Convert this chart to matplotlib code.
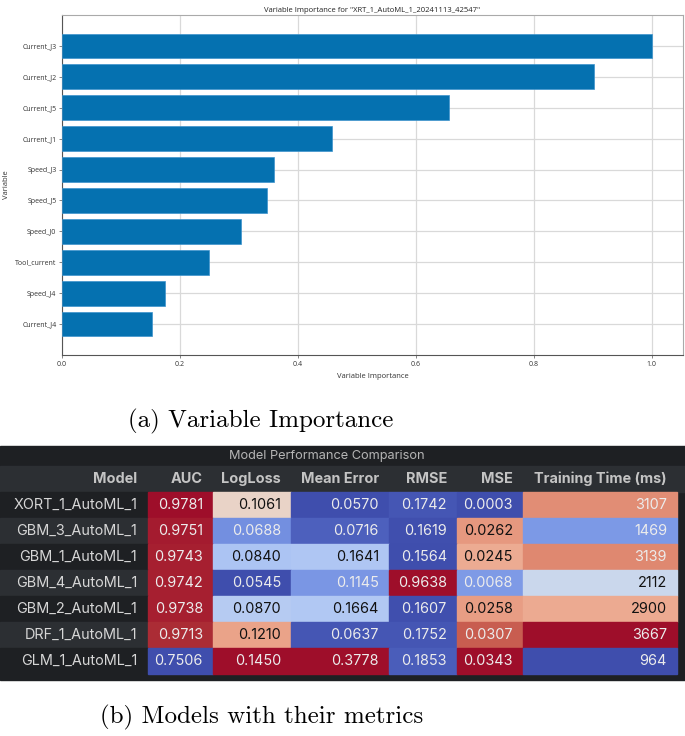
import matplotlib
matplotlib.use("Agg")
import matplotlib.pyplot as plt
from matplotlib.patches import Rectangle
import numpy as np

# === Daten: Variable Importance ===
variables = ["Current_J3", "Current_J2", "Current_J5", "Current_J1", "Speed_J3",
             "Speed_J5", "Speed_J0", "Tool_current", "Speed_J4", "Current_J4"]
importance = [1.0, 0.902, 0.657, 0.457, 0.359, 0.347, 0.303, 0.250, 0.175, 0.153]

# === Daten: Modell-Tabelle ===
models = ["XORT_1_AutoML_1", "GBM_3_AutoML_1", "GBM_1_AutoML_1", "GBM_4_AutoML_1",
          "GBM_2_AutoML_1", "DRF_1_AutoML_1", "GLM_1_AutoML_1"]
metric_names = ["AUC", "LogLoss", "Mean Error", "RMSE", "MSE", "Training Time (ms)"]
auc = [0.9781, 0.9751, 0.9743, 0.9742, 0.9738, 0.9713, 0.7506]
logloss = [0.1061, 0.0688, 0.0840, 0.0545, 0.0870, 0.1210, 0.1450]
mean_error = [0.0570, 0.0716, 0.1641, 0.1145, 0.1664, 0.0637, 0.3778]
rmse = [0.1742, 0.1619, 0.1564, 0.9638, 0.1607, 0.1752, 0.1853]
mse = [0.0003, 0.0262, 0.0245, 0.0068, 0.0258, 0.0307, 0.0343]
train_time = [3107, 1469, 3139, 2112, 2900, 3667, 964]
columns = [auc, logloss, mean_error, rmse, mse, train_time]
formats = ["{:.4f}"] * 5 + ["{:d}"]

W, H = 685, 736
fig = plt.figure(figsize=(W / 100, H / 100), dpi=100)

# === Oberer Plot ===
ax = fig.add_axes([62 / W, 1 - 355 / H, 621 / W, 340 / H])
y = np.arange(len(variables))
ax.barh(y, importance, height=0.8, color="#0571b0", edgecolor="#3d93cc", linewidth=0.5, zorder=3)
ax.set_ylim(len(variables), -1)
ax.set_xlim(0, 1.053)
ax.set_yticks(y)
ax.set_yticklabels(variables)
ax.set_xticks([0.0, 0.2, 0.4, 0.6, 0.8, 1.0])
ax.grid(True, color="#d9d9d9", linewidth=0.9, zorder=0)
ax.tick_params(labelsize=5, length=2, width=0.5, pad=2, colors="#555555", labelcolor="#333333")
for s in ["top", "right"]:
    ax.spines[s].set_color("#aaaaaa")
for s in ["left", "bottom"]:
    ax.spines[s].set_color("#555555")
for s in ax.spines.values():
    s.set_linewidth(0.8)
fname = "Open Sans"
for lab in ax.get_xticklabels() + ax.get_yticklabels():
    lab.set_fontfamily(fname)
ax.set_title('Variable Importance for "XRT_1_AutoML_1_20241113_42547"', fontsize=5.5,
             family=fname, color="#222222", pad=2)
ax.set_xlabel("Variable Importance", fontsize=5.5, family=fname, color="#333333", labelpad=4)
ax.set_ylabel("Variable", fontsize=5.5, family=fname, color="#333333", labelpad=4)

# === Tabelle ===
tx = fig.add_axes([0, 0, 1, 1])
tx.set_xlim(0, W)
tx.set_ylim(H, 0)
tx.axis("off")

dark = "#1e2023"
light = "#2c2f33"
col_edges = [0, 148, 213, 291, 389, 457, 523, 677]
top, title_h, head_h, row_h = 446, 20, 25.5, 26
tx.add_patch(Rectangle((0, top), W, 234, color=dark))
tx.add_patch(Rectangle((0, top + title_h), W, head_h, color=light))
tfont = "Inter"
fs = 10.4
tx.text(327, top + title_h / 2 + 0.5, "Model Performance Comparison", ha="center", va="center",
        fontsize=9.2, family=tfont, color="#b5b5b5")
hy = top + title_h + head_h / 2 + 0.5
tx.text(col_edges[1] - 11, hy, "Model", ha="right", va="center", fontsize=fs,
        family=tfont, weight="bold", color="#c4c4c4")
for j, name in enumerate(metric_names):
    tx.text(col_edges[j + 2] - 10, hy, name, ha="right", va="center", fontsize=fs,
            family=tfont, weight="bold", color="#c4c4c4")

cmap = plt.get_cmap("coolwarm")


def lum(c):
    v = [x / 12.92 if x <= 0.04045 else ((x + 0.055) / 1.055) ** 2.4 for x in c[:3]]
    return 0.2126 * v[0] + 0.7152 * v[1] + 0.0722 * v[2]


def muted(c, k=0.18):
    g = 0.299 * c[0] + 0.587 * c[1] + 0.114 * c[2]
    return tuple((1 - k) * x + k * g for x in c[:3])


y0 = top + title_h + head_h
for i, m in enumerate(models):
    ry = y0 + i * row_h
    tx.add_patch(Rectangle((0, ry), col_edges[1], row_h, color=dark if i % 2 == 0 else light))
    tx.text(col_edges[1] - 11, ry + row_h / 2 + 0.5, m, ha="right", va="center", fontsize=fs,
            family=tfont, color="#d6d6d6")
    for j, vals in enumerate(columns):
        norm = (vals[i] - min(vals)) / (max(vals) - min(vals))
        c = cmap(norm)
        x0 = col_edges[j + 1]
        tx.add_patch(Rectangle((x0, ry), col_edges[j + 2] - x0, row_h, color=muted(c)))
        tcol = "#ececec" if lum(c) < 0.408 else "#111111"
        tx.text(col_edges[j + 2] - 10, ry + row_h / 2 + 0.5, formats[j].format(vals[i]),
                ha="right", va="center", fontsize=fs, family=tfont, color=tcol)

# === Bildunterschriften ===
tx.text(261, 421, "(a) Variable Importance", ha="center", va="center", fontsize=18,
        family="cmr10")
tx.text(262, 717, "(b) Models with their metrics", ha="center", va="center", fontsize=18,
        family="cmr10")

fig.savefig("out.png", dpi=100)
